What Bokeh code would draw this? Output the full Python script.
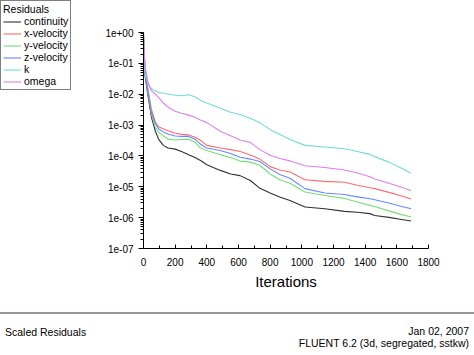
from bokeh.plotting import figure
from bokeh.models import (Range1d, FixedTicker, CustomJSTickFormatter, Legend,
                          LegendItem, Div)
from bokeh.layouts import column, row
from bokeh.embed import file_html
from bokeh.resources import INLINE

# ---------------- data ----------------
iterations = [0, 10, 30, 50, 75, 95, 125, 155, 200, 240, 285, 325, 360, 400,
              485, 550, 610, 675, 735, 800, 860, 925, 1020, 1145, 1270, 1350,
              1430, 1460, 1550, 1620, 1690]

continuity = [1.0, 4.0e-2, 7.9e-3, 1.8e-3, 6.3e-4, 3.5e-4, 2.2e-4, 1.8e-4,
              1.66e-4, 1.4e-4, 1.1e-4, 8.9e-5, 7.1e-5, 5.2e-5, 3.4e-5, 2.6e-5,
              2.3e-5, 1.6e-5, 8.9e-6, 6.3e-6, 4.7e-6, 3.6e-6, 2.2e-6, 1.95e-6,
              1.6e-6, 1.5e-6, 1.35e-6, 1.17e-6, 1.02e-6, 8.9e-7, 7.8e-7]

x_velocity = [0.5, 6.3e-2, 1.3e-2, 3.2e-3, 1.26e-3, 8.9e-4, 7.6e-4, 6.6e-4,
              5.4e-4, 5.0e-4, 4.8e-4, 4.0e-4, 3.2e-4, 2.2e-4, 1.8e-4, 1.6e-4,
              1.4e-4, 1.07e-4, 7.9e-5, 4.5e-5, 3.5e-5, 3.0e-5, 1.7e-5, 1.5e-5,
              1.4e-5, 1.12e-5, 9.3e-6, 8.7e-6, 6.6e-6, 5.2e-6, 4.0e-6]

y_velocity = [0.5, 5.0e-2, 1.0e-2, 2.2e-3, 8.5e-4, 5.9e-4, 4.5e-4, 3.5e-4,
              3.3e-4, 3.4e-4, 3.5e-4, 2.8e-4, 1.8e-4, 1.5e-4, 1.1e-4, 8.9e-5,
              6.8e-5, 6.3e-5, 5.0e-5, 2.6e-5, 1.7e-5, 1.3e-5, 6.8e-6, 5.2e-6,
              4.2e-6, 3.2e-6, 2.5e-6, 2.3e-6, 1.66e-6, 1.3e-6, 1.05e-6]

z_velocity = [0.5, 5.0e-2, 1.0e-2, 2.5e-3, 1.1e-3, 7.6e-4, 6.0e-4, 5.1e-4,
              4.4e-4, 4.3e-4, 4.3e-4, 3.5e-4, 2.4e-4, 1.8e-4, 1.5e-4, 1.2e-4,
              9.1e-5, 7.9e-5, 6.6e-5, 3.8e-5, 2.5e-5, 1.9e-5, 8.7e-6, 6.3e-6,
              5.6e-6, 4.7e-6, 4.1e-6, 3.8e-6, 3.0e-6, 2.4e-6, 1.95e-6]

k_resid = [0.8, 4.5e-2, 2.2e-2, 1.5e-2, 1.26e-2, 1.15e-2, 1.07e-2, 1.02e-2,
           9.3e-3, 8.9e-3, 9.6e-3, 8.3e-3, 6.3e-3, 5.2e-3, 3.5e-3, 2.6e-3,
           2.2e-3, 1.66e-3, 1.2e-3, 7.1e-4, 5.0e-4, 3.4e-4, 2.2e-4, 1.95e-4,
           1.7e-4, 1.4e-4, 1.12e-4, 9.5e-5, 6.3e-5, 4.2e-5, 2.75e-5]

omega = [0.8, 7.9e-2, 2.2e-2, 1.3e-2, 1.0e-2, 7.9e-3, 5.2e-3, 3.8e-3,
         2.8e-3, 2.4e-3, 2.1e-3, 1.8e-3, 1.45e-3, 1.2e-3, 6.3e-4, 4.5e-4,
         3.3e-4, 2.75e-4, 1.6e-4, 1.05e-4, 8.3e-5, 6.9e-5, 4.8e-5, 4.2e-5,
         3.5e-5, 2.8e-5, 2.1e-5, 1.8e-5, 1.3e-5, 1.0e-5, 7.6e-6]

series_names = ["continuity", "x-velocity", "y-velocity", "z-velocity", "k", "omega"]
series_values = [continuity, x_velocity, y_velocity, z_velocity, k_resid, omega]
series_colors = ["#303030", "#ff6a6a", "#74e074", "#6688ff", "#6fded6", "#e07ef0"]

x_ticks = [0, 200, 400, 600, 800, 1000, 1200, 1400, 1600, 1800]
x_minor_ticks = [100, 300, 500, 700, 900, 1100, 1300, 1500, 1700]
y_ticks = [1e-7, 1e-6, 1e-5, 1e-4, 1e-3, 1e-2, 1e-1, 1.0]

x_label = "Iterations"
legend_title = "Residuals"
footer_left = "Scaled Residuals"
footer_date = "Jan 02, 2007"
footer_version = "FLUENT 6.2 (3d, segregated, sstkw)"

FONT = "Liberation Sans"

# ---------------- layout geometry ----------------
LEG_W = 74                # width of the legend strip on the left
AXIS_H = 216              # pixel height of the 1e-07 .. 1e+00 axis
MAIN_H = 312
BOTTOM = 64
frame_h = MAIN_H - BOTTOM
y_top = 10 ** (-7 + 7 * frame_h / AXIS_H)   # leaves ~32 px empty above 1e+00

# ---------------- main figure ----------------
p = figure(width=474 - LEG_W, height=MAIN_H, x_range=Range1d(0, 1800),
           y_range=Range1d(1e-7, y_top), y_axis_type="log",
           output_backend="svg", toolbar_location=None,
           min_border_left=143 - LEG_W, min_border_right=46,
           min_border_top=0, min_border_bottom=BOTTOM)
p.outline_line_color = None
p.grid.visible = False
p.background_fill_color = "white"
p.border_fill_color = "white"

for name, vals, col in zip(series_names, series_values, series_colors):
    p.line(iterations, vals, line_color=col, line_width=1.1)

# x axis
xa = p.xaxis[0]
xa.ticker = FixedTicker(ticks=x_ticks, minor_ticks=x_minor_ticks)
xa.axis_label = x_label
xa.axis_label_text_font = FONT
xa.axis_label_text_font_size = "15px"
xa.axis_label_text_font_style = "normal"
xa.axis_label_standoff = 4
xa.major_label_text_font = FONT
xa.major_label_text_font_size = "10px"
xa.major_label_standoff = 9
xa.major_tick_in = 4
xa.major_tick_out = 0
xa.minor_tick_in = 3
xa.minor_tick_out = 0
xa.axis_line_color = "black"
xa.major_tick_line_color = "black"
xa.minor_tick_line_color = "black"
xa.major_label_text_color = "black"
xa.axis_label_text_color = "black"

# y axis (line limited to 1e-07 .. 1e+00)
ya = p.yaxis[0]
ya.bounds = (y_ticks[0], y_ticks[-1])
ya.ticker = FixedTicker(ticks=y_ticks,
                        minor_ticks=[m * t for t in y_ticks[:-1] for m in range(2, 10)])
ya.formatter = CustomJSTickFormatter(code="""
const e = Math.round(Math.log10(tick));
return '1e' + (e < 0 ? '-' : '+') + String(Math.abs(e)).padStart(2, '0');
""")
ya.major_label_text_font = FONT
ya.major_label_text_font_size = "10px"
ya.major_label_standoff = 5
ya.major_tick_out = 5
ya.major_tick_in = 0
ya.minor_tick_out = 3
ya.minor_tick_in = 0
ya.axis_line_color = "black"
ya.major_tick_line_color = "black"
ya.minor_tick_line_color = "black"
ya.major_label_text_color = "black"

# ---------------- legend strip ----------------
# the key lines carry the same series, but this strip's ranges keep them out of view
lg = figure(width=LEG_W, height=MAIN_H, x_range=Range1d(-2, -1), y_range=Range1d(-2, -1),
            output_backend="svg", toolbar_location=None, min_border=0,
            x_axis_location=None, y_axis_location=None)
lg.outline_line_color = None
lg.grid.visible = False
keys = [lg.line(iterations, vals, line_color=col, line_width=1.1)
        for vals, col in zip(series_values, series_colors)]
items = [LegendItem(label=n, renderers=[r]) for n, r in zip(series_names, keys)]
legend = Legend(items=items, location="top_left", title=legend_title,
                title_text_font=FONT, title_text_font_size="10.5px",
                title_text_font_style="normal", title_standoff=0,
                title_text_color="black",
                label_text_font=FONT, label_text_font_size="10.5px",
                label_text_color="black",
                label_height=9, glyph_height=9, glyph_width=18,
                label_standoff=3, spacing=0, padding=2, margin=0,
                border_line_color="black", border_line_width=1,
                background_fill_color="white", background_fill_alpha=1.0)
lg.add_layout(legend, "center")

# ---------------- footer ----------------
footer_html = f"""
<div style="position:relative;width:474px;height:43px;font-family:'{FONT}';
            font-size:10.5px;color:#000;">
  <div style="position:absolute;left:0;top:0;width:474px;height:0;
              border-top:2px solid #8c9a9a;"></div>
  <div style="position:absolute;left:5px;top:14px;line-height:12px;
              white-space:nowrap;">{footer_left}</div>
  <div style="position:absolute;right:5px;top:13px;line-height:12px;
              text-align:right;white-space:nowrap;">{footer_date}<br>{footer_version}</div>
</div>
"""
footer = Div(text=footer_html, width=474, height=43, margin=0)

layout = column(row(lg, p, spacing=0), footer, spacing=0)
open("out.html", "w").write(file_html(layout, INLINE))
